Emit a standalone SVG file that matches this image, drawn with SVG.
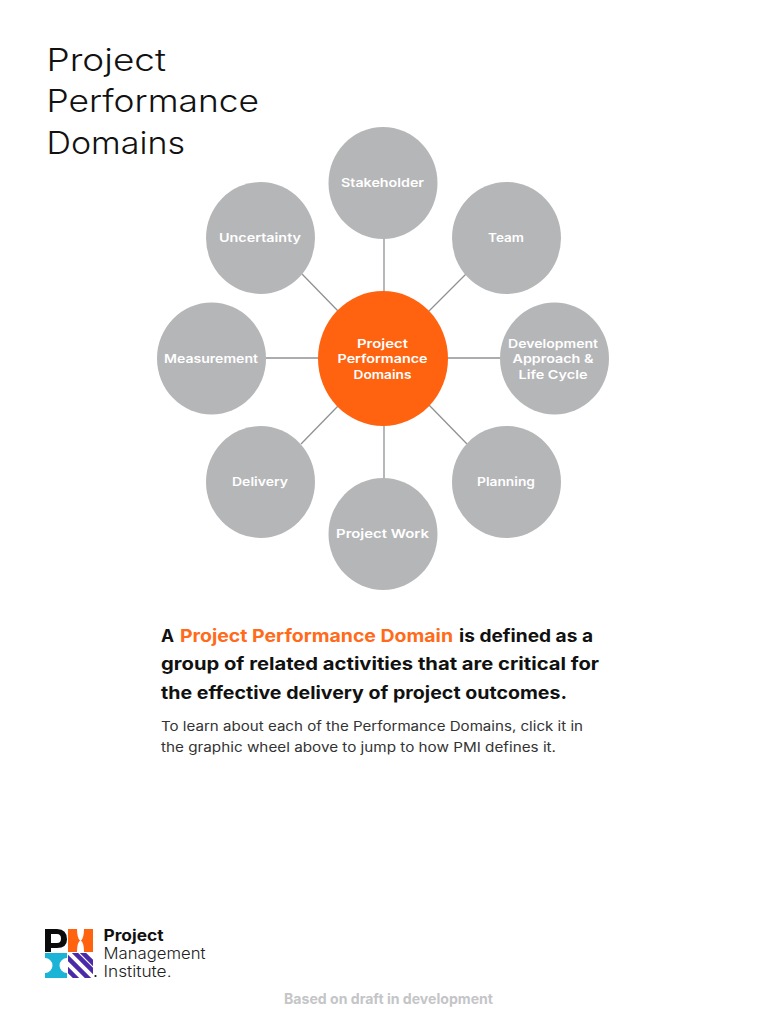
<svg xmlns="http://www.w3.org/2000/svg" width="768" height="1024" viewBox="0 0 768 1024">
<style>
text{font-family:"Inter","Liberation Sans",sans-serif}
.title{font-size:31px;fill:#111;font-weight:300}
.sat{fill:#b5b6b8}
.lbl{font-size:12px;font-weight:600;fill:#fff;text-anchor:middle}
.line{stroke:#8f9194;stroke-width:1.300;fill:none}
.lead{font-size:17.500px;font-weight:700;fill:#111}
.body{font-size:13px;fill:#333}
</style>
<defs>
<clipPath id="purpleClip"><path d="M68 953H93V978H68Z"/></clipPath>
</defs>
<rect width="768" height="1024" fill="#fff"/>
<g id="title">
<text class="title" x="46.500" y="70.500" textLength="119.500" lengthAdjust="spacingAndGlyphs">Project</text>
<text class="title" x="46.500" y="112" textLength="212.500" lengthAdjust="spacingAndGlyphs">Performance</text>
<text class="title" x="46.500" y="153.500" textLength="138.500" lengthAdjust="spacingAndGlyphs">Domains</text>
</g>
<g id="connectors">
<line class="line" x1="384" y1="238" x2="384" y2="292"/>
<line class="line" x1="466" y1="274" x2="429" y2="311"/>
<line class="line" x1="500" y1="358" x2="448" y2="358"/>
<line class="line" x1="467" y1="444" x2="429" y2="405"/>
<line class="line" x1="384" y1="479" x2="384" y2="425"/>
<line class="line" x1="301" y1="444" x2="338" y2="406"/>
<line class="line" x1="266" y1="358" x2="318" y2="358"/>
<line class="line" x1="302" y1="274" x2="338" y2="311"/>
</g>
<g id="stakeholder"><ellipse class="sat" cx="383" cy="183" rx="54.500" ry="56"/><text class="lbl" x="382.500" y="187" textLength="83" lengthAdjust="spacingAndGlyphs">Stakeholder</text></g>
<g id="team"><ellipse class="sat" cx="506.500" cy="238" rx="54.500" ry="56"/><text class="lbl" x="506" y="242" textLength="36" lengthAdjust="spacingAndGlyphs">Team</text></g>
<g id="development"><ellipse class="sat" cx="554.500" cy="358.500" rx="54.500" ry="56"/><text class="lbl" x="553" y="347.500" textLength="90" lengthAdjust="spacingAndGlyphs">Development</text><text class="lbl" x="553" y="363" textLength="81" lengthAdjust="spacingAndGlyphs">Approach &amp;</text><text class="lbl" x="553" y="378.500" textLength="69" lengthAdjust="spacingAndGlyphs">Life Cycle</text></g>
<g id="planning"><ellipse class="sat" cx="506.500" cy="482" rx="54.500" ry="56"/><text class="lbl" x="506" y="486" textLength="58" lengthAdjust="spacingAndGlyphs">Planning</text></g>
<g id="project-work"><ellipse class="sat" cx="383" cy="534" rx="54.500" ry="56"/><text class="lbl" x="382.500" y="538" textLength="93" lengthAdjust="spacingAndGlyphs">Project Work</text></g>
<g id="delivery"><ellipse class="sat" cx="260.500" cy="482" rx="54.500" ry="56"/><text class="lbl" x="260" y="486" textLength="56" lengthAdjust="spacingAndGlyphs">Delivery</text></g>
<g id="measurement"><ellipse class="sat" cx="211.500" cy="358.500" rx="54.500" ry="56"/><text class="lbl" x="211" y="363" textLength="94" lengthAdjust="spacingAndGlyphs">Measurement</text></g>
<g id="uncertainty"><ellipse class="sat" cx="260.500" cy="238" rx="54.500" ry="56"/><text class="lbl" x="260" y="242" textLength="82" lengthAdjust="spacingAndGlyphs">Uncertainty</text></g>
<g id="center"><ellipse cx="383" cy="358.500" rx="65" ry="67.500" fill="#ff6310"/><text class="lbl" x="382.500" y="347.500" textLength="51" lengthAdjust="spacingAndGlyphs">Project</text><text class="lbl" x="382.500" y="363" textLength="90" lengthAdjust="spacingAndGlyphs">Performance</text><text class="lbl" x="382.500" y="378.500" textLength="58" lengthAdjust="spacingAndGlyphs">Domains</text></g>
<g id="description">
<text class="lead" x="161" y="642">A</text>
<text class="lead" x="180" y="642" style="fill:#ff6b1a" textLength="273" lengthAdjust="spacingAndGlyphs">Project Performance Domain</text>
<text class="lead" x="459" y="642" textLength="134" lengthAdjust="spacingAndGlyphs">is defined as a</text>
<text class="lead" x="161" y="670" textLength="438" lengthAdjust="spacingAndGlyphs">group of related activities that are critical for</text>
<text class="lead" x="161" y="699" textLength="406" lengthAdjust="spacingAndGlyphs">the effective delivery of project outcomes.</text>
<text class="body" x="161" y="731" textLength="422" lengthAdjust="spacingAndGlyphs">To learn about each of the Performance Domains, click it in</text>
<text class="body" x="161" y="752" textLength="395" lengthAdjust="spacingAndGlyphs">the graphic wheel above to jump to how PMI defines it.</text>
</g>
<g id="logo">
<path fill="#0b0b0b" fill-rule="evenodd" d="M45 929H57Q67 929 67 939.500Q67 948 57 948H51V952H45ZM51 934V943H57Q61 943 61 938.500Q61 934 57 934Z"/>
<path fill="#ff6310" d="M68 929H77Q77 938 80 940.500Q77 943 77 952H68ZM93 929H84Q84 938 81 940.500Q84 943 84 952H93Z"/>
<path fill="#1cb4d6" d="M45 953H67V958A7.500 7.500 0 0 0 67 973V978H45V973A7.500 7.500 0 0 0 45 958Z"/>
<g clip-path="url(#purpleClip)" stroke="#4b2aa8" stroke-width="4.500">
<line x1="66" y1="956" x2="92" y2="982"/>
<line x1="72" y1="950" x2="98" y2="976"/>
<line x1="80" y1="950" x2="106" y2="976"/>
<line x1="64" y1="966" x2="80" y2="982"/>
</g>
<circle cx="95.500" cy="976" r="1.100" fill="#111"/>
<text x="103.500" y="941" font-size="15.500" font-weight="700" fill="#111" textLength="60" lengthAdjust="spacingAndGlyphs">Project</text>
<text x="103.500" y="959" font-size="15.500" font-weight="300" fill="#222" textLength="102" lengthAdjust="spacingAndGlyphs">Management</text>
<text x="103.500" y="977" font-size="15.500" font-weight="300" fill="#222" textLength="68" lengthAdjust="spacingAndGlyphs">Institute.</text>
</g>
<text id="footer" x="284" y="1004" font-size="14" font-weight="700" fill="#c4c5c7" textLength="209" lengthAdjust="spacingAndGlyphs">Based on draft in development</text>
</svg>
